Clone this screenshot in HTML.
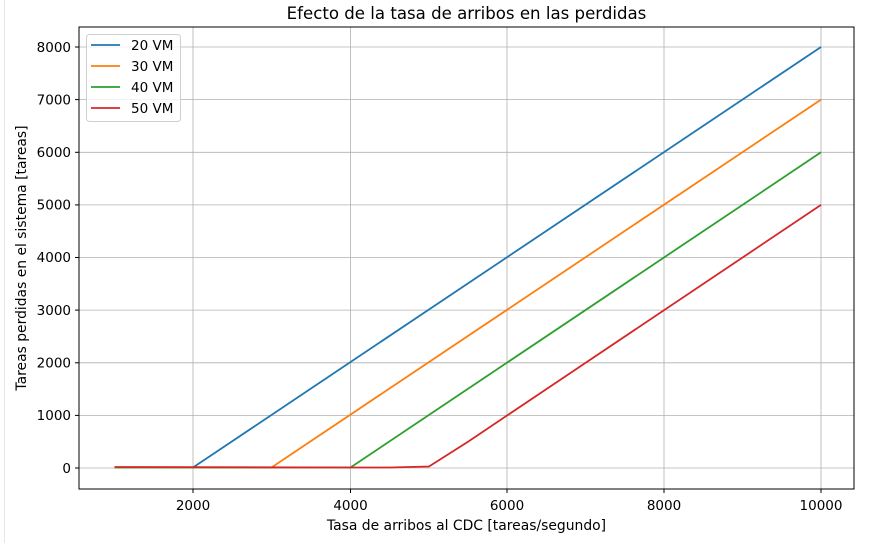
<!DOCTYPE html><html><head><style>body{margin:0;background:#fff}svg{display:block;font-family:"DejaVu Sans","Liberation Sans",sans-serif}</style></head><body>
<svg width="870" height="543" viewBox="0 0 870 543">
<rect x="0" y="0" width="870" height="543" fill="#fff"/>
<line x1="4.5" y1="0" x2="4.5" y2="543" stroke="#e6e6e6"/>
<g stroke="#b0b0b0" stroke-width="0.8">
<line x1="193" y1="27" x2="193" y2="489"/><line x1="350.5" y1="27" x2="350.5" y2="489"/><line x1="507" y1="27" x2="507" y2="489"/><line x1="664" y1="27" x2="664" y2="489"/><line x1="821" y1="27" x2="821" y2="489"/>
<line x1="79" y1="468" x2="854" y2="468"/><line x1="79" y1="415.4" x2="854" y2="415.4"/><line x1="79" y1="362.8" x2="854" y2="362.8"/><line x1="79" y1="310.1" x2="854" y2="310.1"/><line x1="79" y1="257.5" x2="854" y2="257.5"/><line x1="79" y1="204.9" x2="854" y2="204.9"/><line x1="79" y1="152.3" x2="854" y2="152.3"/><line x1="79" y1="99.6" x2="854" y2="99.6"/><line x1="79" y1="47" x2="854" y2="47"/>
</g>
<g fill="none" stroke-width="1.8">
<polyline stroke="#1f77b4" points="114.5,467.5 193,467.5 821,47"/>
<polyline stroke="#ff7f0e" points="114.5,467.5 271.5,467.5 821,99.6"/>
<polyline stroke="#2ca02c" points="114.5,467.5 350.5,467.5 821,152.3"/>
<polyline stroke="#d62728" points="114.5,467 350.5,467.5 390,467.5 429,466.5 468,441.7 821,204.9"/>
</g>
<rect x="79" y="27" width="775" height="462" fill="none" stroke="#000" stroke-width="1"/>
<g stroke="#000"><line x1="193" y1="489" x2="193" y2="493"/><line x1="350.5" y1="489" x2="350.5" y2="493"/><line x1="507" y1="489" x2="507" y2="493"/><line x1="664" y1="489" x2="664" y2="493"/><line x1="821" y1="489" x2="821" y2="493"/>
<line x1="75" y1="468" x2="79" y2="468"/><line x1="75" y1="415.4" x2="79" y2="415.4"/><line x1="75" y1="362.8" x2="79" y2="362.8"/><line x1="75" y1="310.1" x2="79" y2="310.1"/><line x1="75" y1="257.5" x2="79" y2="257.5"/><line x1="75" y1="204.9" x2="79" y2="204.9"/><line x1="75" y1="152.3" x2="79" y2="152.3"/><line x1="75" y1="99.6" x2="79" y2="99.6"/><line x1="75" y1="47" x2="79" y2="47"/></g>
<g font-size="13.5" fill="#000" text-anchor="middle"><text x="193" y="510">2000</text><text x="350.5" y="510">4000</text><text x="507" y="510">6000</text><text x="664" y="510">8000</text><text x="821" y="510">10000</text></g>
<g font-size="13.5" fill="#000" text-anchor="end"><text x="71" y="473">0</text><text x="71" y="420">1000</text><text x="71" y="367.5">2000</text><text x="71" y="315">3000</text><text x="71" y="262">4000</text><text x="71" y="209.5">5000</text><text x="71" y="157">6000</text><text x="71" y="104.5">7000</text><text x="71" y="52">8000</text></g>
<text x="466.5" y="530" font-size="13.9" text-anchor="middle">Tasa de arribos al CDC [tareas/segundo]</text>
<text transform="translate(26,258) rotate(-90)" font-size="13.9" text-anchor="middle">Tareas perdidas en el sistema [tareas]</text>
<text x="466.5" y="19" font-size="16.6" text-anchor="middle">Efecto de la tasa de arribos en las perdidas</text>
<rect x="86.5" y="34.5" width="94" height="87" rx="3" fill="#fff" fill-opacity="0.8" stroke="#d0d0d0"/>
<g stroke-width="1.8"><line x1="91" y1="45" x2="120" y2="45" stroke="#1f77b4"/><line x1="91" y1="66" x2="120" y2="66" stroke="#ff7f0e"/><line x1="91" y1="87" x2="120" y2="87" stroke="#2ca02c"/><line x1="91" y1="108" x2="120" y2="108" stroke="#d62728"/></g>
<g font-size="13.5"><text x="131" y="50">20 VM</text><text x="131" y="71">30 VM</text><text x="131" y="92">40 VM</text><text x="131" y="113">50 VM</text></g>
</svg></body></html>
